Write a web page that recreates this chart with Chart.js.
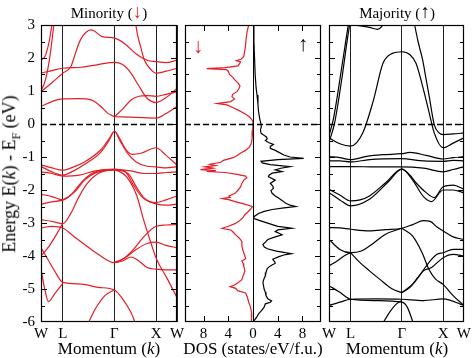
<!DOCTYPE html>
<html>
<head>
<meta charset="utf-8">
<script src="https://cdn.jsdelivr.net/npm/chart.js@4/dist/chart.umd.min.js"></script>
<style>
  body { margin: 0; background: #fff; }
  #wrap { position: relative; width: 474px; height: 358px; font-family: 'Liberation Serif', 'Times New Roman', serif; color: #000; }
  canvas { position: absolute; top: 0; }
  .lbl { position: absolute; white-space: nowrap; transform: translate(-50%, -50%); line-height: 1; }
  .arr { font-size: 19px; }
</style>
</head>
<body>
<div id="wrap">
  <canvas id="minority" width="190" height="358" style="left:0"></canvas>
  <canvas id="dos" width="142" height="358" style="left:182px"></canvas>
  <canvas id="majority" width="158" height="358" style="left:316px"></canvas>

  <div class="lbl" style="left:109px;top:11px;font-size:15px">Minority (<span class="arr" style="color:#e41e26">↓</span>)</div>
  <div class="lbl" style="left:397px;top:11px;font-size:15px">Majority (<span class="arr">↑</span>)</div>
  <div class="lbl" style="left:198px;top:46px;font-size:21px;color:#e41e26">↓</div>
  <div class="lbl" style="left:303px;top:44px;font-size:21px">↑</div>
  <div class="lbl" style="left:109px;top:348px;font-size:17px">Momentum (<i>k</i>)</div>
  <div class="lbl" style="left:253px;top:348px;font-size:17px">DOS (states/eV/f.u.)</div>
  <div class="lbl" style="left:397px;top:348px;font-size:17px">Momentum (<i>k</i>)</div>
  <div class="lbl" style="left:11px;top:174px;font-size:18px;transform:translate(-50%,-50%) rotate(-90deg)">Energy E(<i>k</i>) - E<sub style="font-size:12px">F</sub> (eV)</div>
</div>
<script>
// high symmetry points along the path
const kPoints = [0, 0.16, 0.54, 0.846, 1];
const kLabels = ['W', 'L', 'Γ', 'X', 'W'];
const dosTicks = [-8, -4, 0, 4, 8];

// minority spin bands, [k, E] pairs
const minorityBands = [
  [[0,1.0],[0.03,1.3],[0.06,1.9],[0.08,2.5],[0.1,3.2]],
  [[0,1.94],[0.03,2.05],[0.06,2.5],[0.08,3.0],[0.09,3.3]],
  [[0,0.98],[0.08,1.25],[0.16,1.54],[0.22,1.74],[0.245,2.04],[0.29,2.55],[0.37,2.85],[0.45,2.65],[0.54,2.6],[0.62,2.42],[0.7,2.12],[0.78,1.93],[0.846,1.89],[0.92,1.86],[1,1.94]],
  [[0,1.54],[0.08,1.62],[0.16,1.69],[0.3,1.72],[0.42,1.8],[0.54,1.87],[0.6,1.8],[0.66,1.55],[0.72,1.15],[0.78,0.78],[0.846,0.65],[0.92,0.8],[1,1.08]],
  [[0.69,3.2],[0.71,2.7],[0.735,2.3],[0.76,1.94],[0.81,1.64],[0.846,1.54],[0.92,1.6],[1,1.69]],
  [[0,0.53],[0.08,0.68],[0.16,0.76],[0.28,0.77],[0.37,0.73],[0.44,0.53],[0.49,0.33],[0.54,0.22]],
  [[0.54,0.22],[0.7,0.2],[0.846,0.18],[0.92,0.32],[1,0.53]],
  [[0.54,0.22],[0.6,0.45],[0.66,0.72],[0.72,0.84],[0.78,0.86],[0.846,0.84],[0.92,0.9],[1,0.98]],
  [[0,-1.24],[0.08,-1.33],[0.16,-1.4],[0.24,-1.3],[0.32,-1.15],[0.44,-0.78],[0.5,-0.45],[0.54,-0.22],[0.58,-0.45],[0.62,-0.75],[0.67,-0.92],[0.74,-0.88],[0.846,-0.72],[0.92,-0.95],[1,-1.24]],
  [[0,-1.29],[0.08,-1.45],[0.16,-1.55],[0.24,-1.42],[0.33,-1.2],[0.44,-0.85],[0.5,-0.5],[0.54,-0.22],[0.58,-0.5],[0.63,-0.85],[0.7,-1.15],[0.78,-1.28],[0.846,-1.3],[0.92,-1.33],[1,-1.29]],
  [[0,-1.45],[0.08,-1.5],[0.16,-1.58],[0.28,-1.55],[0.4,-1.42],[0.54,-1.38],[0.66,-1.42],[0.76,-1.5],[0.846,-1.5],[0.92,-1.47],[1,-1.45]],
  [[0,-2.13],[0.08,-2.2],[0.16,-2.3],[0.22,-2.15],[0.28,-1.85],[0.34,-1.6],[0.42,-1.42],[0.54,-1.37],[0.62,-1.45],[0.68,-1.85],[0.74,-2.2],[0.8,-2.36],[0.846,-2.38],[0.92,-2.3],[1,-2.18]],
  [[0,-2.43],[0.08,-2.36],[0.16,-2.3],[0.25,-2.05],[0.32,-1.7],[0.4,-1.48],[0.54,-1.4],[0.64,-1.5],[0.7,-1.9],[0.76,-2.25],[0.846,-2.42],[0.92,-2.46],[1,-2.43]],
  [[0,-2.9],[0.08,-2.95],[0.16,-3.02],[0.22,-2.7],[0.28,-2.2],[0.34,-1.8],[0.42,-1.5],[0.54,-1.38],[0.58,-1.45],[0.63,-1.6],[0.705,-2.18],[0.754,-2.9],[0.8,-3.5],[0.85,-4.1],[0.93,-4.7],[1,-5.26]],
  [[0,-3.15],[0.08,-3.1],[0.16,-3.15],[0.24,-3.4],[0.32,-3.65],[0.42,-3.95],[0.54,-4.2],[0.6,-4.15],[0.66,-4.03],[0.72,-4.15],[0.78,-4.35],[0.846,-4.4],[0.92,-4.42],[1,-4.42]],
  [[0.54,-4.2],[0.6,-4.1],[0.68,-3.8],[0.76,-3.4],[0.846,-3.1],[0.92,-3.06],[1,-3.04]],
  [[0.54,-4.2],[0.62,-4.05],[0.7,-3.8],[0.78,-3.62],[0.846,-3.58],[0.92,-3.68],[1,-3.75]],
  [[0,-3.75],[0.05,-4.1],[0.1,-4.45],[0.16,-4.8],[0.3,-4.85],[0.42,-4.95],[0.54,-5.03],[0.6,-5.3],[0.66,-5.7],[0.7,-6.1]],
  [[0.34,-6.1],[0.4,-5.6],[0.47,-5.2],[0.54,-5.03]],
  [[0,-4.4],[0.03,-5.05],[0.055,-5.38],[0.1,-5.15],[0.16,-4.83]],
  [[0,-4.0],[0.06,-3.7],[0.12,-3.3],[0.16,-3.02]]
];

// majority spin bands, [k, E] pairs
const majorityBands = [
  [[0,-0.35],[0.03,0.1],[0.06,0.8],[0.09,1.6],[0.12,2.4],[0.15,3.2]],
  [[0,-0.55],[0.04,0.0],[0.07,0.7],[0.1,1.5],[0.13,2.4],[0.16,3.2]],
  [[0.15,3.04],[0.22,2.98],[0.3,2.93],[0.36,2.87],[0.39,2.95],[0.42,3.2]],
  [[0,-0.42],[0.08,-0.6],[0.16,-0.67],[0.25,-0.27],[0.33,0.73],[0.4,1.84],[0.47,2.14],[0.54,2.19],[0.6,2.1],[0.645,1.84],[0.694,1.14],[0.743,0.33],[0.78,-0.27],[0.846,-0.72],[0.92,-0.58],[1,-0.42]],
  [[0.625,3.2],[0.66,2.5],[0.694,1.94],[0.72,1.35],[0.743,0.83],[0.78,-0.02],[0.816,-0.27],[0.846,-0.32],[0.92,-0.3],[1,-0.27]],
  [[0,-0.99],[0.08,-1.02],[0.16,-1.08],[0.28,-0.98],[0.4,-0.93],[0.54,-0.9],[0.6,-0.86],[0.72,-0.95],[0.846,-1.06],[0.92,-1.02],[1,-0.99]],
  [[0,-1.12],[0.08,-1.12],[0.16,-1.15],[0.3,-1.08],[0.54,-1.05],[0.7,-1.12],[0.846,-1.13],[0.92,-1.1],[1,-1.12]],
  [[0,-1.29],[0.16,-1.29],[0.35,-1.3],[0.54,-1.3],[0.7,-1.34],[0.846,-1.45],[0.92,-1.38],[1,-1.29]],
  [[0,-1.98],[0.08,-2.15],[0.16,-2.33],[0.23,-2.3],[0.3,-2.18],[0.42,-1.78],[0.54,-1.37],[0.6,-1.55],[0.645,-1.78],[0.72,-2.08],[0.78,-2.23],[0.846,-1.9],[0.92,-1.85],[1,-1.98]],
  [[0,-2.08],[0.08,-2.3],[0.16,-2.48],[0.3,-2.28],[0.44,-1.75],[0.54,-1.37],[0.62,-1.7],[0.7,-2.2],[0.76,-2.35],[0.846,-2.0],[0.92,-2.0],[1,-2.08]],
  [[0,-3.14],[0.08,-3.15],[0.16,-3.19],[0.3,-3.24],[0.42,-3.2],[0.54,-3.16],[0.62,-3.05],[0.7,-2.93],[0.75,-2.95],[0.8,-3.12],[0.846,-3.24],[0.92,-3.42],[1,-3.5]],
  [[0.54,-3.16],[0.62,-3.4],[0.69,-3.9],[0.74,-4.4],[0.79,-4.7],[0.846,-4.86],[0.92,-5.2],[1,-5.5]],
  [[0,-3.5],[0.08,-3.8],[0.16,-3.9],[0.24,-3.85],[0.3,-3.7],[0.42,-3.34],[0.54,-3.16]],
  [[0.16,-3.9],[0.23,-4.2],[0.3,-4.45],[0.375,-4.7],[0.47,-5.0],[0.54,-5.11]],
  [[0,-4.3],[0.06,-4.15],[0.12,-3.98],[0.16,-3.9]],
  [[0.54,-5.11],[0.6,-4.95],[0.67,-4.6],[0.74,-4.2],[0.8,-3.95],[0.846,-3.9],[0.92,-3.8],[1,-3.8]],
  [[0.54,-5.11],[0.62,-4.85],[0.7,-4.45],[0.76,-4.35],[0.846,-4.05],[0.92,-3.95],[1,-4.0]],
  [[0,-4.9],[0.08,-5.1],[0.16,-5.31],[0.35,-5.35],[0.54,-5.4],[0.58,-5.55],[0.63,-6.1]],
  [[0,-5.5],[0.08,-5.4],[0.16,-5.31],[0.35,-5.3],[0.54,-5.31],[0.7,-5.35],[0.846,-5.3],[1,-5.5]],
  [[0.39,-6.1],[0.45,-5.7],[0.5,-5.45],[0.54,-5.35]]
];

// density of states, [E, states/eV/f.u.]
const dosMinority = [
  [3.0,0.7],[2.8,0.95],[2.6,1.1],[2.4,1.2],[2.2,1.35],[2.05,1.5],[1.97,1.9],[1.92,2.7],[1.88,2.0],[1.82,2.2],
  [1.76,2.4],[1.71,4.5],[1.68,7.5],[1.65,4.3],[1.6,4.0],[1.5,3.8],[1.42,3.3],[1.33,2.9],[1.24,2.4],[1.15,2.1],
  [1.06,2.3],[0.98,2.6],[0.9,3.3],[0.83,3.4],[0.76,3.0],[0.68,3.6],[0.62,5.8],[0.58,4.2],[0.5,3.3],[0.42,2.4],
  [0.34,1.6],[0.27,1.0],[0.2,0.5],[0.12,0.15],[0.05,0.0],[-0.2,0.05],[-0.45,0.15],[-0.6,0.3],[-0.7,0.6],[-0.8,1.2],
  [-0.88,2.0],[-0.95,2.5],[-1.02,3.2],[-1.1,4.8],[-1.16,5.2],[-1.22,7.0],[-1.26,6.0],[-1.3,7.8],[-1.34,6.5],[-1.38,8.5],
  [-1.41,6.0],[-1.44,7.5],[-1.47,4.5],[-1.52,2.8],[-1.58,1.2],[-1.63,1.0],[-1.7,1.5],[-1.8,1.8],[-1.9,2.0],[-2.0,2.4],
  [-2.1,2.9],[-2.18,3.9],[-2.22,3.7],[-2.26,5.0],[-2.3,3.8],[-2.35,2.9],[-2.42,1.5],[-2.5,0.1],[-2.58,0.4],[-2.66,0.8],
  [-2.75,1.3],[-2.85,1.7],[-2.95,2.3],[-3.02,2.9],[-3.1,4.0],[-3.16,5.0],[-3.22,3.5],[-3.28,3.2],[-3.36,2.8],[-3.46,2.2],
  [-3.56,1.8],[-3.7,1.8],[-3.85,1.6],[-4.0,1.3],[-4.08,1.2],[-4.15,1.8],[-4.22,1.6],[-4.3,1.5],[-4.45,1.3],[-4.6,1.6],
  [-4.72,1.8],[-4.82,2.5],[-4.88,3.0],[-4.93,3.7],[-4.98,2.8],[-5.05,2.5],[-5.12,1.2],[-5.25,0.9],[-5.4,0.7],[-5.55,0.4],
  [-5.75,0.2],[-6.0,0.25]
];
const dosMajority = [
  [3.0,0.1],[2.5,0.15],[2.0,0.25],[1.5,0.35],[1.1,0.5],[0.88,0.65],[0.6,0.8],[0.37,0.9],[0.15,1.1],[0.07,1.2],
  [-0.08,1.35],[-0.18,1.2],[-0.28,1.3],[-0.33,1.7],[-0.4,2.2],[-0.45,2.3],[-0.5,2.0],[-0.56,2.5],[-0.62,3.3],[-0.68,2.8],
  [-0.74,2.8],[-0.8,3.6],[-0.86,4.2],[-0.94,5.0],[-1.0,6.0],[-1.04,8.2],[-1.08,4.0],[-1.13,1.3],[-1.18,1.5],[-1.23,2.8],
  [-1.29,6.0],[-1.34,4.5],[-1.39,3.6],[-1.44,4.7],[-1.49,3.1],[-1.55,2.6],[-1.6,2.5],[-1.7,3.6],[-1.8,2.8],[-1.88,3.2],
  [-1.95,3.3],[-2.02,2.9],[-2.1,3.1],[-2.18,3.6],[-2.25,4.2],[-2.33,4.8],[-2.4,5.3],[-2.46,6.0],[-2.5,6.9],[-2.54,5.0],
  [-2.59,3.1],[-2.65,1.8],[-2.71,0.9],[-2.8,0.2],[-2.86,0.1],[-2.92,1.0],[-2.98,2.0],[-3.04,3.0],[-3.1,4.0],[-3.16,6.3],
  [-3.21,4.0],[-3.26,3.6],[-3.32,4.3],[-3.36,4.7],[-3.42,3.6],[-3.5,2.4],[-3.58,2.0],[-3.65,1.6],[-3.72,1.8],[-3.78,2.3],
  [-3.85,3.8],[-3.9,5.2],[-3.93,6.2],[-3.97,5.0],[-4.02,4.2],[-4.1,3.2],[-4.17,3.5],[-4.22,3.6],[-4.3,2.8],[-4.38,2.3],
  [-4.5,2.1],[-4.6,2.0],[-4.68,1.8],[-4.8,1.6],[-4.9,1.7],[-5.0,1.8],[-5.1,2.0],[-5.2,2.1],[-5.3,2.4],[-5.36,3.0],
  [-5.4,2.8],[-5.45,2.0],[-5.55,1.8],[-5.65,1.4],[-5.75,0.9],[-5.85,0.6],[-5.95,0.2],[-6.0,0.0]
];

const RED = '#e41e26';
const SERIF = "'Liberation Serif', 'Times New Roman', serif";
const tickFont = { family: SERIF, size: 15 };
Chart.defaults.font.family = SERIF;
Chart.defaults.color = '#000';

// frame, inward ticks and the dashed Fermi level
const panelFrame = {
  id: 'panelFrame',
  afterDatasetsDraw(chart, args, opts) {
    const { ctx, chartArea: a } = chart;
    const x = chart.scales.x, y = chart.scales.y;
    ctx.save();
    ctx.strokeStyle = '#000';
    if (opts.zeroX) {
      ctx.lineWidth = 1;
      const px = Math.round(x.getPixelForValue(0)) + 0.5;
      ctx.beginPath(); ctx.moveTo(px, a.top); ctx.lineTo(px, a.bottom); ctx.stroke();
    }
    ctx.lineWidth = 1.3;
    ctx.setLineDash([6, 3]);
    const yf = Math.round(y.getPixelForValue(0)) + 0.5;
    ctx.beginPath(); ctx.moveTo(a.left, yf); ctx.lineTo(a.right, yf); ctx.stroke();
    ctx.setLineDash([]);
    ctx.lineWidth = 1;
    ctx.beginPath();
    for (let v = y.min + 0.5; v < y.max; v += 0.5) {
      const p = Math.round(y.getPixelForValue(v)) + 0.5;
      const len = Number.isInteger(v) ? 6 : 4;
      ctx.moveTo(a.left, p); ctx.lineTo(a.left + len, p);
      ctx.moveTo(a.right, p); ctx.lineTo(a.right - len, p);
    }
    (opts.xTicks || []).forEach(v => {
      const p = Math.round(x.getPixelForValue(v)) + 0.5;
      ctx.moveTo(p, a.top); ctx.lineTo(p, a.top + 6);
      ctx.moveTo(p, a.bottom); ctx.lineTo(p, a.bottom - 6);
    });
    ctx.stroke();
    ctx.lineWidth = 1.2;
    ctx.strokeRect(Math.round(a.left) + 0.5, Math.round(a.top) + 0.5, Math.round(a.width) - 1, Math.round(a.height) - 1);
    ctx.restore();
  }
};

function energyAxis(show) {
  const axis = {
    min: -6, max: 3, display: show,
    ticks: { stepSize: 1, font: tickFont, padding: 6 },
    grid: { display: false, drawTicks: false },
    border: { display: false }
  };
  if (show) axis.afterFit = s => { s.width = 41; };
  return axis;
}

function bandChart(id, bands, color, pad, showY) {
  return new Chart(document.getElementById(id), {
    type: 'line',
    data: {
      datasets: bands.map(b => ({
        data: b.map(([k, e]) => ({ x: k, y: e })),
        borderColor: color, borderWidth: 1.2, pointRadius: 0,
        cubicInterpolationMode: 'monotone', fill: false
      }))
    },
    options: {
      responsive: false, animation: false,
      layout: { padding: pad },
      plugins: { legend: { display: false }, tooltip: { enabled: false }, panelFrame: {} },
      scales: {
        x: {
          type: 'linear', min: 0, max: 1,
          afterBuildTicks: s => { s.ticks = kPoints.map(v => ({ value: v })); },
          afterFit: s => { s.height = 36; },
          ticks: { autoSkip: false, maxRotation: 0, padding: 3, font: tickFont, callback: (v, i) => kLabels[i] },
          grid: { color: '#222', lineWidth: 1, drawTicks: false },
          border: { display: false }
        },
        y: energyAxis(showY)
      }
    },
    plugins: [panelFrame]
  });
}

bandChart('minority', minorityBands, RED, { top: 25, right: 13 }, true);
bandChart('majority', majorityBands, '#000', { top: 25, left: 13, right: 9 }, false);

new Chart(document.getElementById('dos'), {
  type: 'scatter',
  data: {
    datasets: [
      { data: dosMinority.map(([e, d]) => ({ x: -d, y: e })), borderColor: RED },
      { data: dosMajority.map(([e, d]) => ({ x: d, y: e })), borderColor: '#000' }
    ].map(ds => Object.assign(ds, { showLine: true, borderWidth: 1.2, pointRadius: 0, tension: 0 }))
  },
  options: {
    responsive: false, animation: false,
    layout: { padding: { top: 25, left: 3, right: 3 } },
    plugins: { legend: { display: false }, tooltip: { enabled: false }, panelFrame: { xTicks: [-8, -4, 4, 8], zeroX: true } },
    scales: {
      x: {
        type: 'linear', min: -11, max: 11,
        afterBuildTicks: s => { s.ticks = dosTicks.map(v => ({ value: v })); },
        afterFit: s => { s.height = 36; },
        ticks: { autoSkip: false, maxRotation: 0, padding: 3, font: tickFont, callback: v => Math.abs(v) },
        grid: { display: false, drawTicks: false },
        border: { display: false }
      },
      y: energyAxis(false)
    }
  },
  plugins: [panelFrame]
});
</script>
</body>
</html>
